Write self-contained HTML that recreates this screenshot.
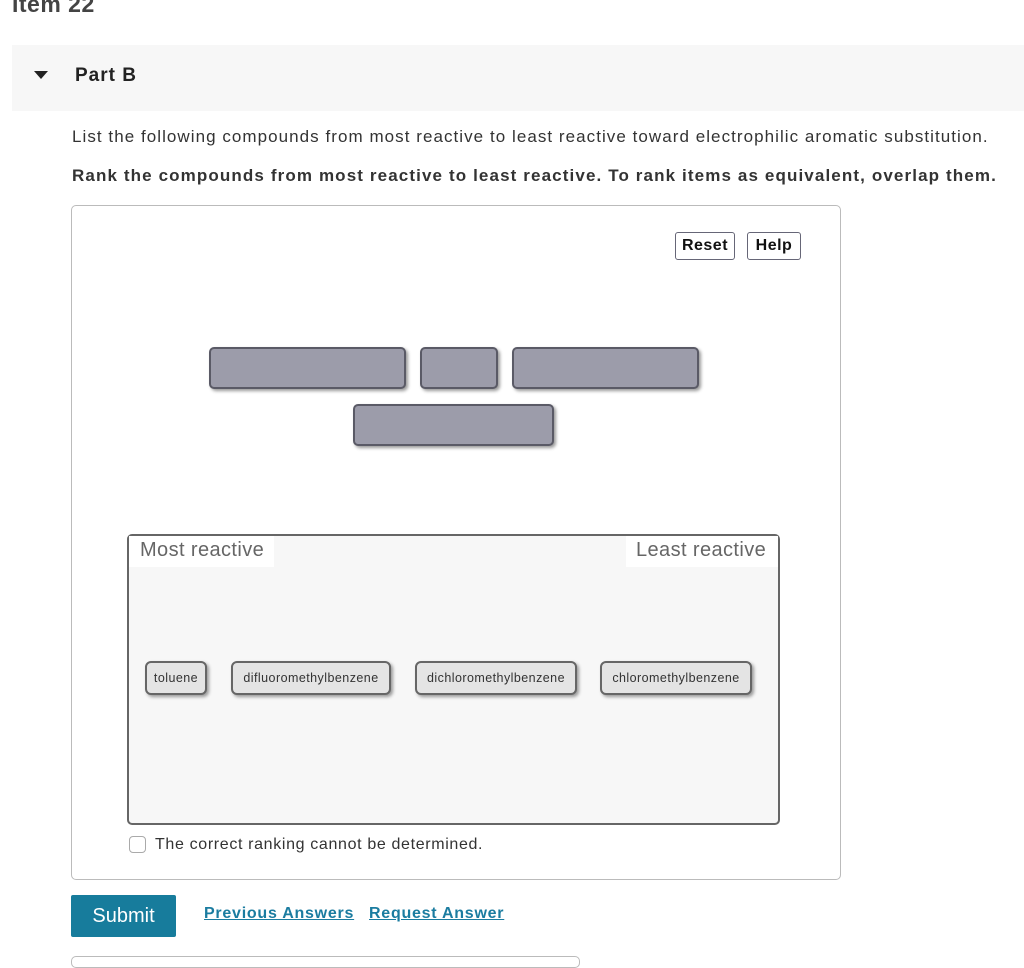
<!DOCTYPE html>
<html><head><style>
body{margin:0;width:1024px;height:959px;background:#fff;font-family:"Liberation Sans",sans-serif;position:relative;overflow:hidden;color:#222}
.a{position:absolute}
.slot{position:absolute;background:#9c9caa;border:2px solid #5a5a66;border-radius:5px;box-shadow:2px 2px 3px #999;box-sizing:border-box}
.chip{position:absolute;top:661px;height:34px;background:#e4e4e4;border:2px solid #666;border-radius:6px;box-sizing:border-box;box-shadow:2px 2px 3px #999;font-size:12.5px;line-height:30px;text-align:center;color:#333;letter-spacing:0.45px;white-space:nowrap}
.btn{position:absolute;top:232px;height:28px;border:1px solid #667;border-radius:3px;font-weight:bold;font-size:16px;line-height:26px;text-align:center;box-sizing:border-box;color:#111;letter-spacing:0.5px}
</style></head><body>
<div class="a" style="left:12px;top:-9px;font-size:23px;font-weight:bold;color:#444;letter-spacing:0.5px">Item 22</div>
<div class="a" style="left:12px;top:45px;width:1012px;height:66px;background:#f7f7f7"></div>
<div class="a" style="left:34px;top:71px;width:0;height:0;border-left:7px solid transparent;border-right:7px solid transparent;border-top:8px solid #222"></div>
<div class="a" style="left:75px;top:65px;font-size:19px;font-weight:bold;letter-spacing:1px">Part B</div>
<div class="a" style="left:72px;top:127px;font-size:17px;color:#333;letter-spacing:1.05px;white-space:nowrap">List the following compounds from most reactive to least reactive toward electrophilic aromatic substitution.</div>
<div class="a" style="left:72px;top:166px;font-size:17px;font-weight:bold;color:#333;letter-spacing:1.12px;white-space:nowrap">Rank the compounds from most reactive to least reactive. To rank items as equivalent, overlap them.</div>
<div class="a" style="left:71px;top:205px;width:770px;height:675px;border:1px solid #bbb;border-radius:5px;box-sizing:border-box"></div>
<div class="btn" style="left:675px;width:60px">Reset</div>
<div class="btn" style="left:747px;width:54px">Help</div>
<div class="slot" style="left:209px;top:347px;width:197px;height:42px"></div>
<div class="slot" style="left:420px;top:347px;width:78px;height:42px"></div>
<div class="slot" style="left:512px;top:347px;width:187px;height:42px"></div>
<div class="slot" style="left:353px;top:404px;width:201px;height:42px"></div>
<div class="a" style="left:127px;top:534px;width:653px;height:291px;background:#f7f7f7;border:2px solid #666;border-radius:5px;box-sizing:border-box"></div>
<div class="a" style="left:129px;top:536px;width:145px;height:31px;background:#fff;font-size:20px;color:#666;padding-left:11px;line-height:28px;box-sizing:border-box;letter-spacing:0.4px">Most reactive</div>
<div class="a" style="left:626px;top:536px;width:152px;height:31px;background:#fff;font-size:20px;color:#666;padding-left:10px;line-height:28px;box-sizing:border-box;letter-spacing:0.4px">Least reactive</div>
<div class="chip" style="left:145px;width:62px">toluene</div>
<div class="chip" style="left:231px;width:160px">difluoromethylbenzene</div>
<div class="chip" style="left:415px;width:162px">dichloromethylbenzene</div>
<div class="chip" style="left:600px;width:152px">chloromethylbenzene</div>
<div class="a" style="left:129px;top:836px;width:17px;height:17px;border:1px solid #aaa;border-radius:4px;box-sizing:border-box"></div>
<div class="a" style="left:155px;top:836px;font-size:16px;color:#333;letter-spacing:0.65px;white-space:nowrap">The correct ranking cannot be determined.</div>
<div class="a" style="left:71px;top:895px;width:105px;height:42px;background:#177c9c;border-radius:2px;color:#fff;font-size:20px;line-height:42px;text-align:center">Submit</div>
<div class="a" style="left:204px;top:905px;font-size:16px;font-weight:bold;color:#1b7ca0;text-decoration:underline;letter-spacing:0.75px;white-space:nowrap">Previous Answers</div>
<div class="a" style="left:369px;top:905px;font-size:16px;font-weight:bold;color:#1b7ca0;text-decoration:underline;letter-spacing:0.75px;white-space:nowrap">Request Answer</div>
<div class="a" style="left:71px;top:956px;width:507px;height:10px;border:1px solid #bbb;border-radius:5px"></div>
</body></html>
